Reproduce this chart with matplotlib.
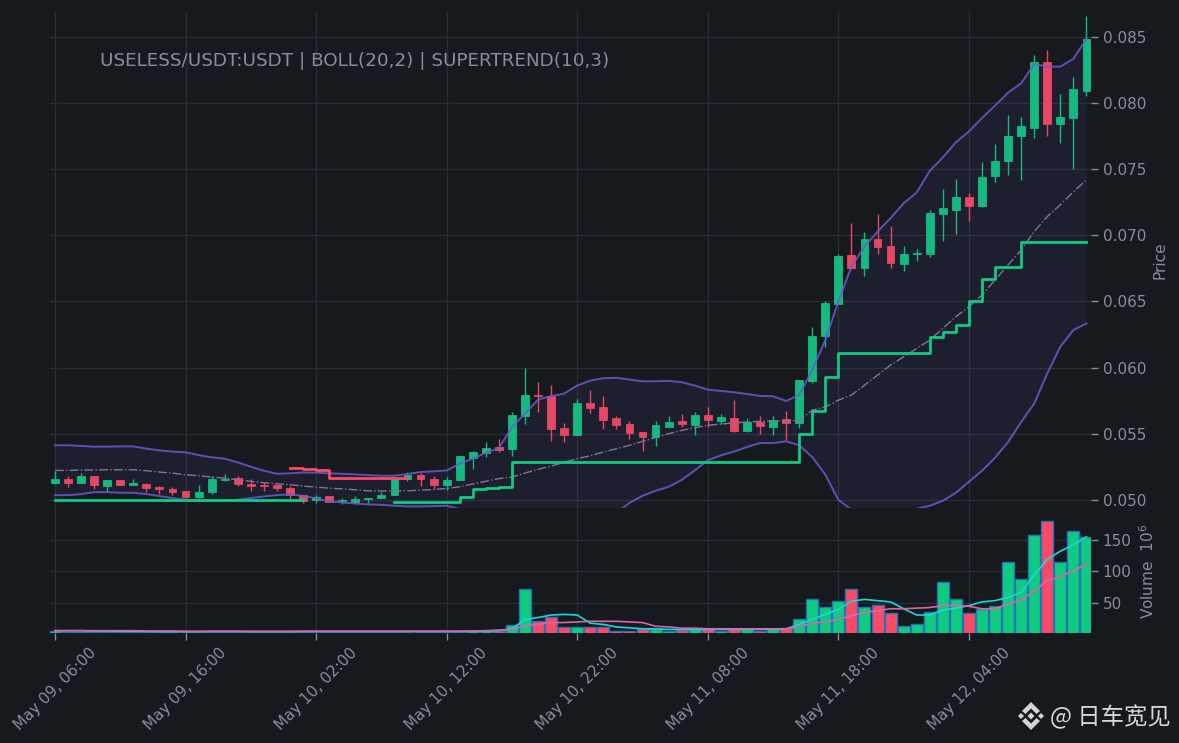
import matplotlib
matplotlib.use('Agg')
import matplotlib.pyplot as plt
from matplotlib.patches import Polygon
import numpy as np

nan = float('nan')

opens = [.05124, .05159, .05124, .05177, .05104, .05146, .05111, .05121, .05093, .05083,
         .05063, .05020, .05056, .05152, .05162, .05116, .05111, .05109, .05091, .05040,
         .04995, .05025, .04992, .04987, .05008, .05010, .05033, .05154, .05189, .05159,
         .05109, .05146, .05313, .05351, .05396, .05381, .05634, .05793, .05788, .05540,
         .05487, .05730, .05699, .05616, .05571, .05510, .05472, .05548, .05593, .05563,
         .05639, .05593, .05616, .05518, .05586, .05548, .05609, .05581, .05897, .06240,
         .06482, .06851, .06753, .06970, .06919, .06785, .06856, .06861, .07162, .07192,
         .07290, .07222, .07445, .07563, .07747, .07813, .08308, .07843, .07889, .08093]
highs = [.05215, .05179, .05202, .05177, .05152, .05146, .05157, .05126, .05104, .05098,
         .05063, .05114, .05182, .05197, .05177, .05157, .05131, .05114, .05106, .05040,
         .05033, .05025, .05010, .05028, .05015, .05058, .05159, .05210, .05202, .05179,
         .05172, .05333, .05371, .05437, .05462, .05667, .05997, .05891, .05871, .05583,
         .05765, .05833, .05783, .05636, .05598, .05510, .05598, .05631, .05652, .05662,
         .05702, .05652, .05758, .05621, .05631, .05631, .05672, .05904, .06308, .06505,
         .06856, .07091, .07023, .07159, .07066, .06922, .06899, .07192, .07349, .07424,
         .07316, .07550, .07689, .07909, .07891, .08364, .08402, .08068, .08194, .08654]
lows = [.05121, .05096, .05124, .05081, .05063, .05111, .05111, .05058, .05045, .05040,
        .05015, .05015, .05045, .05141, .05104, .05066, .05066, .05066, .05008, .04975,
        .04977, .04987, .04970, .04970, .04977, .05010, .05033, .05141, .05104, .05081,
        .05071, .05146, .05235, .05323, .05361, .05331, .05576, .05664, .05444, .05437,
        .05487, .05657, .05535, .05535, .05460, .05369, .05407, .05548, .05548, .05490,
        .05550, .05576, .05513, .05513, .05500, .05487, .05450, .05543, .05886, .06152,
        .06482, .06742, .06689, .06856, .06750, .06727, .06806, .06833, .06960, .07008,
        .07104, .07210, .07399, .07455, .07417, .07735, .07748, .07697, .07500, .08053]
closes = [.05159, .05126, .05177, .05111, .05146, .05111, .05124, .05086, .05081, .05058,
          .05020, .05056, .05159, .05159, .05119, .05104, .05104, .05086, .05033, .04990,
          .05023, .04987, .04995, .05008, .05015, .05040, .05159, .05189, .05154, .05111,
          .05152, .05328, .05359, .05389, .05379, .05639, .05790, .05785, .05533, .05487,
          .05730, .05692, .05601, .05563, .05503, .05472, .05563, .05586, .05571, .05639,
          .05601, .05624, .05518, .05586, .05556, .05601, .05583, .05904, .06237, .06487,
          .06843, .06753, .06970, .06914, .06793, .06856, .06866, .07169, .07205, .07290,
          .07222, .07442, .07563, .07753, .07828, .08308, .07843, .07897, .08109, .08485]

bb_upper = [.05412, .05412, .05407, .05402, .05402, .05404, .05404, .05387, .05374, .05364,
            .05359, .05338, .05321, .05311, .05283, .05250, .05220, .05197, .05200, .05207,
            .05205, .05200, .05197, .05192, .05187, .05182, .05182, .05195, .05210, .05215,
            .05222, .05273, .05311, .05356, .05391, .05550, .05652, .05758, .05783, .05803,
            .05864, .05901, .05919, .05922, .05909, .05896, .05896, .05899, .05889, .05864,
            .05833, .05823, .05813, .05800, .05785, .05783, .05747, .05793, .05980, .06207,
            .06498, .06763, .06914, .07028, .07129, .07242, .07323, .07487, .07588, .07702,
            .07785, .07886, .07980, .08078, .08149, .08295, .08275, .08275, .08333, .08485]
bb_mid = [.05222, .05222, .05225, .05225, .05227, .05227, .05227, .05220, .05210, .05202,
          .05189, .05182, .05172, .05164, .05152, .05139, .05129, .05121, .05114, .05104,
          .05096, .05088, .05083, .05076, .05068, .05066, .05066, .05068, .05073, .05078,
          .05086, .05098, .05120, .05140, .05160, .05172, .05202, .05230, .05255, .05283,
          .05311, .05333, .05361, .05386, .05412, .05442, .05470, .05500, .05525, .05545,
          .05563, .05573, .05581, .05588, .05593, .05596, .05596, .05601, .05677, .05702,
          .05753, .05791, .05866, .05942, .06018, .06081, .06144, .06207, .06296, .06384,
          .06460, .06548, .06662, .06775, .06889, .07028, .07141, .07230, .07328, .07419]
bb_lower = [.05035, .05035, .05043, .05058, .05058, .05053, .05053, .05043, .05028, .05013,
            .05000, .04992, .04990, .04995, .05000, .05013, .05025, .05035, .05040, .05030,
            .05010, .04987, .04980, .04972, .04965, .04962, .04955, .04950, .04950, .04952,
            .04955, .04930, .04900, .04870, .04800, .04700, .04620, .04550, .04500, .04520,
            .04560, .04610, .04700, .04900, .04977, .05030, .05068, .05098, .05150, .05222,
            .05298, .05336, .05364, .05399, .05429, .05429, .05442, .05412, .05323, .05190,
            .05000, .04925, .04910, .04900, .04900, .04910, .04932, .04955, .04992, .05053,
            .05136, .05219, .05318, .05437, .05588, .05727, .05955, .06157, .06283, .06333]

st_green = [.05000] * 19 + [nan] * 7 + [.04985] * 5 + [.05020, .05083, .05090, .05095] \
    + [.05285] * 22 + [.05500, .05669, .05927] + [.06106] * 7 \
    + [.06227, .06265, .06318, .06500, .06667, .06758, .06758, .06947] + [.06947] * 5
st_red = [nan] * 18 + [.05237, .05232, .05225] + [.05167] * 6 + [nan] * 53

volumes = [4, 3.5, 3.5, 3.5, 3.5, 3, 3, 3, 3, 3, 3, 3.5, 3.5, 3, 3, 3, 3, 3, 3, 3.5,
           3.5, 3, 3, 3, 3, 3, 3.5, 3.5, 3.5, 3.5, 3.5, 3.5, 4, 4.5, 5, 14, 71, 21, 26.5, 11,
           11, 11, 11, 4, 5, 7.4, 7, 5, 6, 7, 7.4, 4, 8.4, 7, 5, 7, 9, 24, 56, 43,
           53, 72, 43, 46, 34, 13, 15, 35, 82, 55, 34, 40, 45, 114, 88, 158, 180, 115, 164, 155]
vol_ma_fast = [5, 5, 5, 4.5, 4.5, 4, 4, 4, 3.5, 3.5, 3.5, 3.5, 4, 4, 4, 3.5, 3.5, 3.5, 3.5, 4,
               4, 4, 4, 4, 4, 4, 4, 4, 4, 4, 4, 4, 4, 4.5, 5, 8, 23, 26, 30, 31,
               30, 17, 15, 11, 9.5, 8, 8, 7, 7, 7, 7, 7, 7, 7, 7, 7, 8, 15, 23, 31,
               39, 52, 55, 53, 51, 40, 30, 30, 38, 41, 45, 51, 53, 58, 66, 94, 119, 132, 142, 155]
vol_ma_slow = [5, 5, 5, 5, 5, 5, 5, 4.5, 4.5, 4.5, 4, 4, 4, 4, 4, 4, 4, 4, 4, 4,
               4, 4, 4, 4, 4, 4, 4, 4, 4, 4, 4, 4, 4.5, 5, 6, 7, 13, 15, 18, 18,
               19, 20, 20, 20, 19, 18, 12, 11, 9, 9, 8, 8, 8, 8, 8, 8, 8, 11, 17, 19,
               23, 29, 34, 37, 40, 40, 41, 42, 45, 45, 44, 40, 40, 48, 54, 68, 85, 91, 101, 111]

tick_positions = [0, 10, 20, 30, 40, 50, 60, 70]
tick_labels = ['May 09, 06:00', 'May 09, 16:00', 'May 10, 02:00', 'May 10, 12:00',
               'May 10, 22:00', 'May 11, 08:00', 'May 11, 18:00', 'May 12, 04:00']
price_ticks = [0.050, 0.055, 0.060, 0.065, 0.070, 0.075, 0.080, 0.085]
volume_ticks = [50, 100, 150]

BG = '#161a1f'
GRID = '#2a2d34'
TEXT = '#848e9c'
UP = '#15ba80'
DOWN = '#e54764'
VOL_UP = '#0ecb81'
VOL_DOWN = '#fb4a68'
BOLL = '#6a5acd'

W, H = 1179, 743
x = np.arange(len(closes))

fig = plt.figure(figsize=(W / 100, H / 100), dpi=100, facecolor=BG)
ax = fig.add_axes([50 / W, 1 - 508 / H, 1041 / W, 497 / H], facecolor=BG)
ax_vol = fig.add_axes([50 / W, 1 - 633 / H, 1041 / W, 125 / H], facecolor=BG, sharex=ax)

# Bollinger band first, candles above it, then the lines
ax.fill_between(x, bb_lower, bb_upper, color=BOLL, alpha=0.09, linewidth=0, zorder=1)

colors = [UP if c >= o else DOWN for o, c in zip(opens, closes)]
ax.vlines(x, lows, highs, colors=colors, linewidth=1, zorder=2)
bottoms = [min(o, c) for o, c in zip(opens, closes)]
heights = [abs(c - o) for o, c in zip(opens, closes)]
ax.bar(x, heights, width=0.6, bottom=bottoms, color=colors, linewidth=0.6, edgecolor=colors, zorder=2)

ax.plot(x, bb_upper, color=BOLL, linewidth=1.4, alpha=0.85, zorder=3)
ax.plot(x, bb_lower, color=BOLL, linewidth=1.4, alpha=0.85, zorder=3)
ax.plot(x, bb_mid, color='#7f769c', linewidth=1, linestyle='-.', zorder=3)

ax.plot(x, st_green, color=VOL_UP, linewidth=2, drawstyle='steps-post', zorder=4)
ax.plot(x, st_red, color=VOL_DOWN, linewidth=2, drawstyle='steps-post', zorder=4)

ax.set_xlim(-0.38, 79.35)
ax.set_ylim(0.04938, 0.08695)
ax.set_yticks(price_ticks)
ax.set_yticklabels(['%.3f' % p for p in price_ticks])
ax.yaxis.tick_right()
ax.yaxis.set_label_position('right')
ax.set_ylabel('Price', color=TEXT, fontsize=11)
ax.yaxis.set_label_coords((1153 - 50) / 1041, (508 - 260) / 497)
ax.tick_params(axis='x', which='both', length=0, labelbottom=False)
fig.text(100 / W, 1 - 60.5 / H, 'USELESS/USDT:USDT | BOLL(20,2) | SUPERTREND(10,3)', color=TEXT, fontsize=13.2,
         va='center', ha='left')

vol_colors = [VOL_UP if c >= o else VOL_DOWN for o, c in zip(opens, closes)]
ax_vol.bar(x, volumes, width=0.92, color=vol_colors, edgecolor='#2473b5', linewidth=1, zorder=2)
ax_vol.plot(x, vol_ma_fast, color='#18d8d8', linewidth=1.2, zorder=3)
ax_vol.plot(x, vol_ma_slow, color='#d866a8', linewidth=1.2, zorder=3)
ax_vol.set_ylim(1.3, 201)
ax_vol.set_yticks(volume_ticks)
ax_vol.yaxis.tick_right()
ax_vol.yaxis.set_label_position('right')
ax_vol.set_ylabel('Volume  $10^6$', color=TEXT, fontsize=11)
ax_vol.yaxis.set_label_coords((1138 - 50) / 1041, (633 - 571) / 125)
ax_vol.set_xticks(tick_positions)
ax_vol.set_xticklabels(tick_labels)
ax_vol.tick_params(axis='x', labelrotation=45, pad=4)

for a in (ax, ax_vol):
    a.grid(True, color=GRID, linewidth=1, zorder=0)
    a.set_axisbelow(True)
    a.tick_params(axis='both', colors=TEXT, labelsize=11, length=5, width=1)
    for s in a.spines.values():
        s.set_visible(False)


# watermark logo, pixel coordinates from top left
def diamond(cx, cy, r):
    return [(cx - r, cy), (cx, cy - r), (cx + r, cy), (cx, cy + r)]


logo = [diamond(1031, 716, 3.5), diamond(1021, 716, 3), diamond(1041, 716, 3),
        [(1031, 702), (1040, 711), (1036.5, 714), (1031, 708.5), (1025.5, 714), (1022, 711)],
        [(1031, 730), (1040, 721), (1036.5, 718), (1031, 723.5), (1025.5, 718), (1022, 721)]]
for pts in logo:
    fig.add_artist(Polygon([(px / W, 1 - py / H) for px, py in pts], closed=True, facecolor='#d4d4d4',
                           edgecolor='none', transform=fig.transFigure))
fig.text(1050 / W, 1 - 717 / H, '@ 日车宽见', color='#d8d8d8', fontsize=16.8, va='center', ha='left',
         family=['Noto Sans CJK SC', 'DejaVu Sans'])

fig.savefig('out.png', dpi=100, facecolor=BG)
